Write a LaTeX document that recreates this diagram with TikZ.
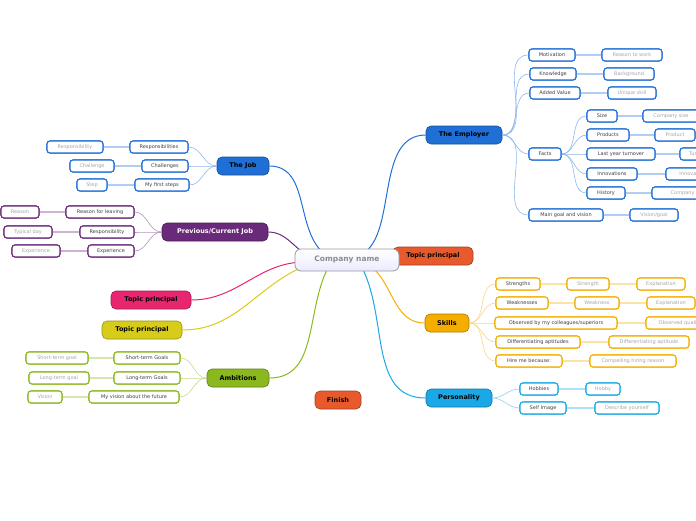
\documentclass[tikz,border=0pt]{standalone}
\usepackage{fontspec}
\setmainfont{DejaVu Sans}
\begin{document}
\begin{tikzpicture}[x=1pt,y=-1pt,
 every node/.style={font=\fontsize{5}{6}\selectfont, inner sep=0pt, minimum height=12pt, rounded corners=3pt},
 sub/.style={draw=#1, line width=1.1pt, fill=white, text=black!75, minimum width=40pt},
 leaf/.style={draw=#1, line width=1.1pt, fill=white, text=black!35, minimum width=40pt},
 topic/.style={draw=#1!70!black, line width=0.6pt, fill=#1, text=black, minimum height=18pt, rounded corners=5pt, font=\fontsize{6.5}{8}\selectfont\bfseries},
 br/.style={draw=#1, line width=1pt},
 sl/.style={draw=#1!50, line width=0.6pt},
 ll/.style={draw=#1!35, line width=1.8pt}]
\definecolor{cb}{HTML}{1F6FD6}\definecolor{cp}{HTML}{6A2A7A}\definecolor{cpk}{HTML}{E8256F}
\definecolor{cy}{HTML}{D8CC1A}\definecolor{cg}{HTML}{8AB81E}\definecolor{co}{HTML}{F5AE00}
\definecolor{cc}{HTML}{1AA8E6}\definecolor{cr}{HTML}{E85A2C}
\useasboundingbox (0,0) rectangle (696,520);
% main topics
\node[topic=cb] (emp) at (464,135) [minimum width=76pt] {The Employer};
\node[topic=cr] (tp1) at (433,256) [minimum width=80pt] {Topic principal};
\node[topic=co] (sk) at (447,323) [minimum width=44pt] {Skills};
\node[topic=cc] (per) at (459,398) [minimum width=66pt] {Personality};
\node[topic=cb] (job) at (243,166) [minimum width=52pt] {The Job};
\node[topic=cp,text=white] (prev) at (215,232) [minimum width=106pt] {Previous/Current Job};
\node[topic=cpk] (tp2) at (151,300) [minimum width=80pt] {Topic principal};
\node[topic=cy] (tp3) at (142,330) [minimum width=80pt] {Topic principal};
\node[topic=cg] (amb) at (238,378) [minimum width=62pt] {Ambitions};
\node[topic=cr] (fin) at (338,400) [minimum width=46pt] {Finish};
% branches
\draw[br=cb] (347,258) to[out=0,in=180] (emp.west);
\draw[br=cr] (350,258) to[out=0,in=180] (tp1.west);
\draw[br=co] (365,262) to[out=-30,in=180] (sk.west);
\draw[br=cc] (360,264) to[out=-60,in=180] (per.west);
\draw[br=cb] (330,258) to[out=150,in=0] (job.east);
\draw[br=cp] (320,258) to[out=180,in=0] (prev.east);
\draw[br=cpk] (305,262) to[out=180,in=0] (tp2.east);
\draw[br=cy] (310,264) to[out=200,in=0] (tp3.east);
\draw[br=cg] (330,264) to[out=240,in=0] (amb.east);
\node[draw=black!40, line width=0.8pt, top color=white, bottom color=blue!8, text=black!45, minimum width=104pt, minimum height=22pt, rounded corners=6pt, font=\fontsize{7.5}{9}\selectfont\bfseries] (c) at (347,260) {Company name};
% Employer
\foreach \n/\x/\y/\w/\t/\lx/\lw/\lt in {
 mo/552/55/46/Motivation/632/60/Reason to work,
 kn/553/74/46/Knowledge/629/50/Background,
 av/555/93/50/Added Value/632/48/Unique skill,
 mg/566/215/74/Main goal and vision/654/48/Vision\slash goal}{
 \node[sub=cb,minimum width=\w pt] (\n) at (\x,\y) {\t};
 \node[leaf=cb,minimum width=\lw pt] (\n l) at (\lx,\y) {\lt};
 \draw[sl=cb] (emp.east) to[out=0,in=180] (\n.west);
 \draw[ll=cb] (\n) -- (\n l);
 \node[sub=cb,minimum width=\w pt] at (\x,\y) {\t};
 \node[leaf=cb,minimum width=\lw pt] at (\lx,\y) {\lt};}
\node[sub=cb,minimum width=32pt] (fa) at (545,154) {Facts};
\draw[sl=cb] (emp.east) to[out=0,in=180] (fa.west);
\foreach \n/\x/\y/\w/\t/\lx/\lw/\lt in {
 si/602/116/30/Size/671/56/Company size,
 pr/608/135/42/Products/675/40/Product,
 ly/621/154/68/Last year turnover/700/40/Turnover,
 in/612/174/50/Innovations/694/56/Innovations,
 hi/606/193/38/History/692/80/Company history}{
 \node[sub=cb,minimum width=\w pt] (\n) at (\x,\y) {\t};
 \node[leaf=cb,minimum width=\lw pt] (\n l) at (\lx,\y) {\lt};
 \draw[sl=cb] (fa.east) to[out=0,in=180] (\n.west);
 \draw[ll=cb] (\n) -- (\n l);
 \node[sub=cb,minimum width=\w pt] at (\x,\y) {\t};
 \node[leaf=cb,minimum width=\lw pt] at (\lx,\y) {\lt};}
\node[sub=cb,minimum width=32pt] at (545,154) {Facts};
% Skills
\foreach \n/\x/\y/\w/\t/\lx/\lw/\lt in {
 ob/556/323/122/Observed by my colleagues\slash superiors/682/72/Observed qualities,
 da/538/342/84/Differentiating aptitudes/649/80/Differentiating aptitude,
 hm/529/361/66/Hire me because:/633/86/Compelling hiring reason}{
 \node[sub=co,minimum width=\w pt] (\n) at (\x,\y) {\t};
 \node[leaf=co,minimum width=\lw pt] (\n l) at (\lx,\y) {\lt};
 \draw[sl=co] (sk.east) to[out=0,in=180] (\n.west);
 \draw[ll=co] (\n) -- (\n l);
 \node[sub=co,minimum width=\w pt] at (\x,\y) {\t};
 \node[leaf=co,minimum width=\lw pt] at (\lx,\y) {\lt};}
\foreach \n/\x/\y/\w/\t/\lx/\lw/\lt/\ex in {
 st/518/284/44/Strengths/588/42/Strength/661,
 we/522/303/52/Weaknesses/597/44/Weakness/671}{
 \node[sub=co,minimum width=\w pt] (\n) at (\x,\y) {\t};
 \node[leaf=co,minimum width=\lw pt] (\n l) at (\lx,\y) {\lt};
 \node[leaf=co,minimum width=48pt] (\n e) at (\ex,\y) {Explanation};
 \draw[sl=co] (sk.east) to[out=0,in=180] (\n.west);
 \draw[ll=co] (\n) -- (\n l) -- (\n e);
 \node[sub=co,minimum width=\w pt] at (\x,\y) {\t};
 \node[leaf=co,minimum width=\lw pt] at (\lx,\y) {\lt};
 \node[leaf=co,minimum width=48pt] at (\ex,\y) {Explanation};}
% Personality
\foreach \n/\x/\y/\w/\t/\lx/\lw/\lt in {
 ho/539/389/38/Hobbies/603/34/Hobby,
 sf/543/408/46/Self Image/627/64/Describe yourself}{
 \node[sub=cc,minimum width=\w pt] (\n) at (\x,\y) {\t};
 \node[leaf=cc,minimum width=\lw pt] (\n l) at (\lx,\y) {\lt};
 \draw[sl=cc] (per.east) to[out=0,in=180] (\n.west);
 \draw[ll=cc] (\n) -- (\n l);
 \node[sub=cc,minimum width=\w pt] at (\x,\y) {\t};
 \node[leaf=cc,minimum width=\lw pt] at (\lx,\y) {\lt};}
% left side
\foreach \p/\c/\n/\x/\y/\w/\t/\lx/\lw/\lt in {
 job/cb/r1/159/147/58/Responsibilities/75/56/Responsibility,
 job/cb/r2/165/166/46/Challenges/92/44/Challenge,
 job/cb/r3/162/185/54/My first steps/92/30/Step,
 prev/cp/p1/100/212/68/Reason for leaving/20/38/Reason,
 prev/cp/p2/107/232/54/Responsibility/28/48/Typical day,
 prev/cp/p3/111/251/46/Experience/36/48/Experience,
 amb/cg/a1/147/358/66/Short-term Goals/57/62/Short-term goal,
 amb/cg/a2/147/378/66/Long-term Goals/59/60/Long-term goal,
 amb/cg/a3/134/397/90/My vision about the future/45/34/Vision}{
 \node[sub=\c,minimum width=\w pt] (\n) at (\x,\y) {\t};
 \node[leaf=\c,minimum width=\lw pt] (\n l) at (\lx,\y) {\lt};
 \draw[sl=\c] (\p.west) to[out=180,in=0] (\n.east);
 \draw[ll=\c] (\n) -- (\n l);
 \node[sub=\c,minimum width=\w pt] at (\x,\y) {\t};
 \node[leaf=\c,minimum width=\lw pt] at (\lx,\y) {\lt};}
\end{tikzpicture}
\end{document}
